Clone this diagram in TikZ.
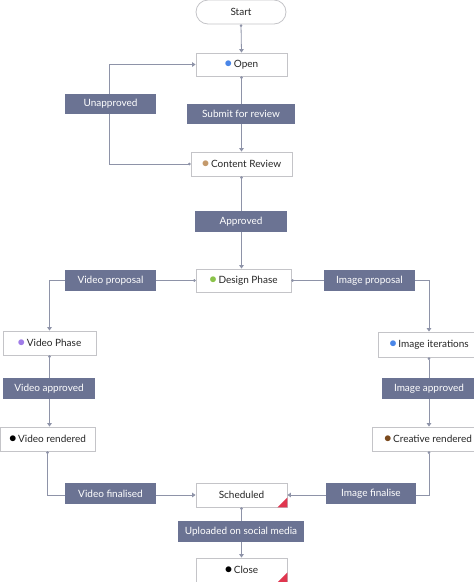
\documentclass[tikz,border=0pt]{standalone}
\usepackage{fontspec}
\usepackage{graphicx}
\setmainfont{Lato}
\usetikzlibrary{arrows.meta}
\definecolor{lblfill}{HTML}{6B7393}
\definecolor{linecol}{HTML}{8E93A8}
\definecolor{boxline}{HTML}{C4C4C8}
\definecolor{cornerred}{HTML}{E0364F}
\definecolor{dotblue}{HTML}{4A86E8}
\definecolor{dottan}{HTML}{C49A6C}
\definecolor{dotgreen}{HTML}{8BC34A}
\definecolor{dotpurple}{HTML}{A07CE8}
\definecolor{dotbrown}{HTML}{7B4A1E}
\newcommand{\stdot}[1]{{\color{#1}\raisebox{-0.12ex}{\scalebox{1.5}{$\bullet$}}}\,}
\begin{document}
\begin{tikzpicture}[x=1pt,y=-1pt]
	\tikzstyle{every node}+=[font=\fontsize{10}{12}\selectfont, text=black!85, inner sep=0pt]
	\tikzstyle{state}=[draw=boxline, fill=white, line width=0.8pt, minimum height=24pt]
	\tikzstyle{lbl}=[fill=lblfill, text=white, minimum height=21pt]
	\tikzstyle{link}=[draw=linecol, line width=0.8pt, {Circle[length=2.5pt]}-{Triangle[width=4.5pt,length=3.5pt]}]
	\useasboundingbox (0,0) rectangle (474,582);
	\node [state, rounded corners=12pt, minimum width=90pt] (start) at (241,12) {Start};
	\node [state, minimum width=91pt, minimum height=23pt] (open) at (241.5,64.5) {\stdot{dotblue}Open};
	\node [state, minimum width=101pt] (review) at (241.5,164) {\stdot{dottan}Content Review};
	\node [state, minimum width=95pt, minimum height=23pt] (design) at (243.5,280.5) {\stdot{dotgreen}Design Phase};
	\node [state, minimum width=93pt] (vphase) at (49.5,343) {\stdot{dotpurple}Video Phase};
	\node [state, minimum width=102pt, minimum height=25pt] (iter) at (429,344.5) {\stdot{dotblue}Image iterations};
	\node [state, minimum width=95pt] (vrendered) at (47.5,439) {\stdot{black}Video rendered};
	\node [state, minimum width=112pt] (creative) at (428,439) {\stdot{dotbrown}Creative rendered};
	\node [state, minimum width=91pt] (scheduled) at (241.5,495) {Scheduled};
	\node [state, minimum width=91pt] (close) at (241.5,570) {\stdot{black}Close};
	\fill [cornerred] (scheduled.south east) -- +(-10,0) -- +(0,-10) -- cycle;
	\fill [cornerred] (close.south east) -- +(-10,0) -- +(0,-10) -- cycle;
	\draw [link] (start.south) -- (open.north);
	\draw [link] (open.south) -- (review.north);
	\draw [link] (review.west) -- (109.5,164) -- (109.5,64.5) -- (open.west);
	\draw [link] (review.south) -- (design.north -| review.south);
	\draw [link] (design.west) -| (vphase.north);
	\draw [link] (design.east) -| (iter.north);
	\draw [link] (vphase.south) -- (vrendered.north -| vphase.south);
	\draw [link] (iter.south) -- (creative.north -| iter.south);
	\draw [link] (vrendered.south) |- (scheduled.west);
	\draw [link] (creative.south -| iter.south) |- (scheduled.east);
	\draw [link] (scheduled.south) -- (close.north);
	\node [lbl, minimum width=108pt, minimum height=20pt] (submit) at (241,114) {Submit for review};
	\node [lbl, minimum width=91pt, minimum height=20pt] (unapproved) at (110.5,104) {Unapproved};
	\node [lbl, minimum width=92pt] (approved) at (241,221.5) {Approved};
	\node [lbl, minimum width=91pt] (vproposal) at (110.5,280.5) {Video proposal};
	\node [lbl, minimum width=91pt] (iproposal) at (369.5,280.5) {Image proposal};
	\node [lbl, minimum width=92pt] (vapproved) at (49,388.5) {Video approved};
	\node [lbl, minimum width=94pt] (iapproved) at (429,388.5) {Image approved};
	\node [lbl, minimum width=91pt] (vfinalised) at (110.5,493.5) {Video finalised};
	\node [lbl, minimum width=90pt] (ifinalise) at (371,493.5) {Image finalise};
	\node [lbl, minimum width=126pt] (uploaded) at (241,531.5) {Uploaded on social media};
\end{tikzpicture}
\end{document}
